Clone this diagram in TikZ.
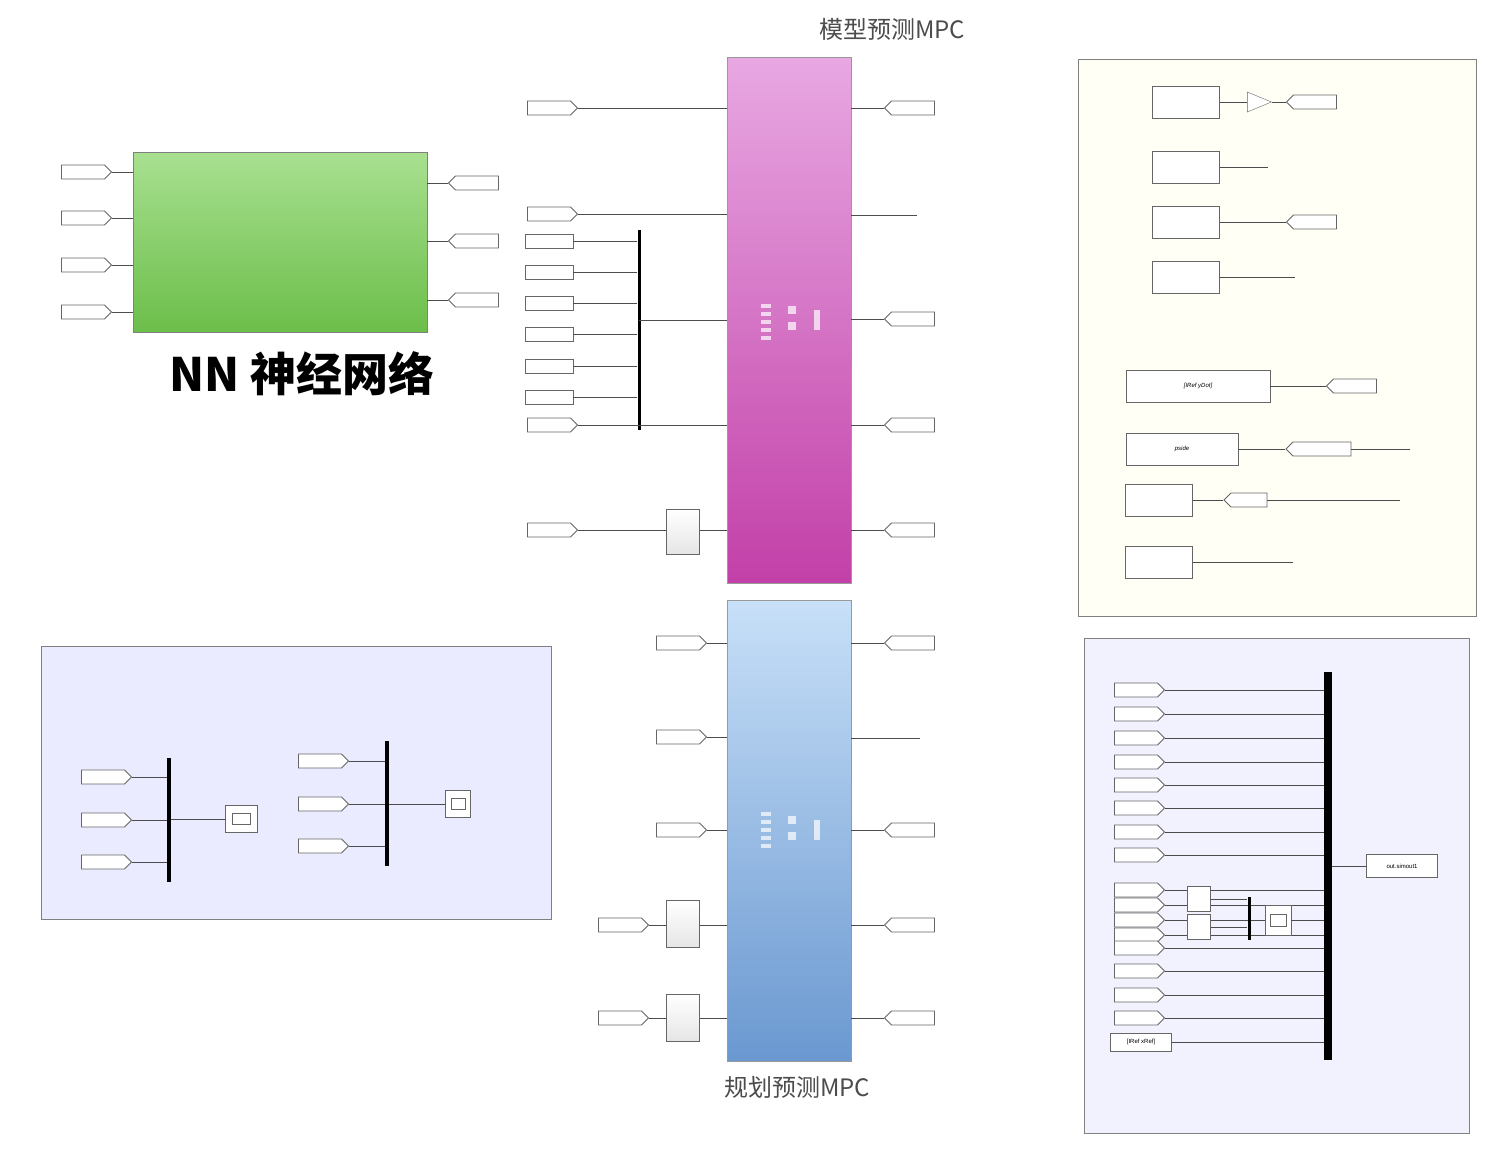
\documentclass[tikz,border=0pt]{standalone}
\usepackage{fontspec}
\setmainfont{Liberation Sans}
\newfontfamily\cjk{Noto Sans CJK SC}
\usetikzlibrary{shapes.symbols,shapes.geometric}
\definecolor{lg}{HTML}{6CBE4A}\definecolor{lgt}{HTML}{A8E090}
\definecolor{mgt}{HTML}{E8A8E2}\definecolor{mgb}{HTML}{C240A8}
\definecolor{blt}{HTML}{C8E0F8}\definecolor{blb}{HTML}{6A98D0}
\tikzset{
 w/.style={line width=0.8pt,draw=black!70},
 tagR/.style={signal,signal to=east,draw=black!60,fill=white,minimum width=50pt,minimum height=14pt,inner sep=0pt,line width=0.8pt},
 tagL/.style={signal,signal to=west,draw=black!60,fill=white,minimum width=50pt,minimum height=14pt,inner sep=0pt,line width=0.8pt},
 tagB/.style={draw=black!60,fill=white,minimum width=48pt,minimum height=14pt,inner sep=0pt,line width=0.8pt},
 sbox/.style={draw=black!60,fill=white,inner sep=0pt,line width=0.8pt,font=\fontsize{6}{7}\selectfont\itshape},
 bus/.style={fill=black,inner sep=0pt,minimum width=4pt},
 panel/.style={draw=black!50,line width=1pt},
 ttl/.style={font=\cjk\fontsize{24}{28}\selectfont,text=black!70},
}
\begin{document}
\begin{tikzpicture}[x=1pt,y=-1pt]
\useasboundingbox[fill=white] (0,0) rectangle (1497,1157);
% ---------- NN block
\node[draw=black!50,top color=lgt,bottom color=lg,minimum width=294pt,minimum height=180pt,inner sep=0pt] (nn) at (280,242) {};
\foreach \y [count=\i] in {172,218,265,312}{
 \node[tagR] (ni\i) at (83,\y) {};
 \draw[w] (ni\i.east) -- (ni\i.east -| nn.west);}
\foreach \y [count=\i] in {183,241,300}{
 \node[tagL] (no\i) at (477,\y) {};
 \draw[w] (no\i.west) -- (no\i.west -| nn.east);}
\node[font=\cjk\bfseries\fontsize{46}{50}\selectfont] (nnt) at (302,374) {NN 神经网络};
% ---------- magenta MPC
\node[draw=black!40,top color=mgt,bottom color=mgb,minimum width=124pt,minimum height=526pt,inner sep=0pt] (m1) at (789,320) {};
\node[ttl] (m1t) at (892,29) {模型预测MPC};
\node[tagR] (ma) at (549,108) {}; \draw[w] (ma.east) -- (ma.east -| m1.west);
\node[tagR] (mb) at (549,214) {}; \draw[w] (mb.east) -- (mb.east -| m1.west);
\node[bus,minimum height=200pt,minimum width=3pt] (mbus) at (639,330) {};
\foreach \y [count=\i] in {241,272,303,334,366,397}{
 \node[tagB] (mc\i) at (549,\y) {};
 \draw[w] (mc\i.east) -- (mc\i.east -| mbus.west);}
\node[tagR] (mc7) at (549,425) {}; \draw[w] (mc7.east) -- (mc7.east -| m1.west);
\coordinate (mbo) at (639,320); \draw[w] (mbo) -- (mbo -| m1.west);
\node[tagR] (md) at (549,530) {};
\node[sbox,top color=white,bottom color=black!10,minimum width=33pt,minimum height=45pt] (mdb) at (683,532) {};
\draw[w] (md.east) -- (md.east -| mdb.west); \draw[w] (mdb.east |- md.east) -- (md.east -| m1.west);
\foreach \y/\s [count=\i] in {108/tagL,319/tagL,425/tagL,530/tagL}{
 \node[\s] (mo\i) at (913,\y) {};
 \draw[w] (mo\i.west) -- (mo\i.west -| m1.east);}
\coordinate (mp) at (917,215); \draw[w] (mp -| m1.east) -- (mp);
\foreach \dy in {-16,-8,0,8,16}{\fill[white,opacity=0.7] (761,320+\dy) rectangle (771,324+\dy);}
\fill[white,opacity=0.7] (788,306) rectangle (796,314); \fill[white,opacity=0.7] (788,322) rectangle (796,330);
\fill[white,opacity=0.7] (814,310) rectangle (820,330);
% ---------- blue MPC
\node[draw=black!40,top color=blt,bottom color=blb,minimum width=124pt,minimum height=461pt,inner sep=0pt] (m2) at (789,831) {};
\node[ttl] (m2t) at (797,1087) {规划预测MPC};
\foreach \y [count=\i] in {643,737,830}{
 \node[tagR] (bi\i) at (678,\y) {};
 \draw[w] (bi\i.east) -- (bi\i.east -| m2.west);}
\foreach \y/\c [count=\i] in {925/924,1018/1018}{
 \node[tagR] (bj\i) at (620,\y) {};
 \node[sbox,top color=white,bottom color=black!10,minimum width=33pt,minimum height=47pt] (bb\i) at (683,\c) {};
 \draw[w] (bj\i.east) -- (bj\i.east -| bb\i.west);
 \draw[w] (bb\i.east |- bj\i.east) -- (bj\i.east -| m2.west);}
\foreach \y [count=\i] in {643,830,925,1018}{
 \node[tagL] (bo\i) at (913,\y) {};
 \draw[w] (bo\i.west) -- (bo\i.west -| m2.east);}
\coordinate (bp) at (920,738); \draw[w] (bp -| m2.east) -- (bp);
\foreach \dy in {-16,-8,0,8,16}{\fill[white,opacity=0.7] (761,828+\dy) rectangle (771,832+\dy);}
\fill[white,opacity=0.7] (788,816) rectangle (796,824); \fill[white,opacity=0.7] (788,832) rectangle (796,840);
\fill[white,opacity=0.7] (814,820) rectangle (820,840);
% ---------- right top panel
\node[panel,fill=green!4!yellow!4,minimum width=398pt,minimum height=557pt,inner sep=0pt] (p1) at (1277,338) {};
\node[sbox,minimum width=67pt,minimum height=32pt] (r1) at (1186,102) {};
\node[isosceles triangle,draw=black!60,fill=white,minimum height=22pt,minimum width=20pt,inner sep=0pt] (g1) at (1254,102) {};
\node[tagL] (r1t) at (1315,102) {};
\draw[w] (r1.east) -- (g1.west); \draw[w] (g1.east) -- (r1t.west);
\node[sbox,minimum width=67pt,minimum height=32pt] (r2) at (1186,167) {};
\coordinate (r2e) at (1268,167); \draw[w] (r2.east) -- (r2e);
\node[sbox,minimum width=67pt,minimum height=32pt] (r3) at (1186,222) {};
\node[tagL] (r3t) at (1315,222) {}; \draw[w] (r3.east) -- (r3t.west);
\node[sbox,minimum width=67pt,minimum height=32pt] (r4) at (1186,277) {};
\coordinate (r4e) at (1295,277); \draw[w] (r4.east) -- (r4e);
\node[sbox,minimum width=144pt,minimum height=32pt] (r5) at (1198,386) {[IRef yDot]};
\node[tagL] (r5t) at (1355,386) {}; \draw[w] (r5.east) -- (r5t.west);
\node[sbox,minimum width=112pt,minimum height=32pt] (r6) at (1182,449) {pside};
\node[tagL,minimum width=65pt] (r6t) at (1322,449) {}; \coordinate (r6e) at (1410,449);
\draw[w] (r6.east) -- (r6t.west); \draw[w] (r6t.east) -- (r6e);
\node[sbox,minimum width=67pt,minimum height=32pt] (r7) at (1159,500) {};
\node[tagL,minimum width=43pt] (r7t) at (1249,500) {}; \coordinate (r7e) at (1400,500);
\draw[w] (r7.east) -- (r7t.west); \draw[w] (r7t.east) -- (r7e);
\node[sbox,minimum width=67pt,minimum height=32pt] (r8) at (1159,562) {};
\coordinate (r8e) at (1293,562); \draw[w] (r8.east) -- (r8e);
% ---------- left bottom panel
\node[panel,fill=blue!8,minimum width=510pt,minimum height=273pt,inner sep=0pt] (p2) at (296,783) {};
\node[bus,minimum height=124pt] (lb1) at (169,820) {};
\foreach \y [count=\i] in {777,820,862}{
 \node[tagR] (la\i) at (103,\y) {}; \draw[w] (la\i.east) -- (la\i.east -| lb1.west);}
\node[sbox,minimum width=32pt,minimum height=27pt] (ls1) at (241,819) {};
\node[draw=black!60,minimum width=18pt,minimum height=11pt,inner sep=0pt] at (ls1) {};
\draw[w] (lb1.east |- ls1.west) -- (ls1.west);
\node[bus,minimum height=125pt] (lb2) at (387,803) {};
\foreach \y [count=\i] in {761,804,846}{
 \node[tagR] (lc\i) at (320,\y) {}; \draw[w] (lc\i.east) -- (lc\i.east -| lb2.west);}
\node[sbox,minimum width=25pt,minimum height=27pt] (ls2) at (458,804) {};
\node[draw=black!60,minimum width=14pt,minimum height=11pt,inner sep=0pt] at (ls2) {};
\draw[w] (lb2.east |- ls2.west) -- (ls2.west);
% ---------- right bottom panel
\node[panel,fill=blue!5,minimum width=385pt,minimum height=495pt,inner sep=0pt] (p3) at (1277,886) {};
\node[bus,minimum height=388pt,minimum width=8pt] (rb) at (1328,866) {};
\foreach \y [count=\i] in {690,714,738,762,785,808,832,855,890,905,920,935,948,971,995,1018}{
 \node[tagR] (rt\i) at (1136,\y) {}; \draw[w] (rt\i.east) -- (rt\i.east -| rb.west);}
\node[sbox,minimum width=61pt,minimum height=18pt,font=\fontsize{6}{7}\selectfont] (rx) at (1141,1042) {[IRef xRef]};
\draw[w] (rx.east) -- (rx.east -| rb.west);
\node[sbox,minimum width=71pt,minimum height=23pt,font=\fontsize{6}{7}\selectfont] (ro) at (1402,866) {out.simout1};
\draw[w] (ro.west -| rb.east) -- (ro.west);
\node[sbox,minimum width=23pt,minimum height=25pt] (rs1) at (1199,899) {};
\node[sbox,minimum width=23pt,minimum height=25pt] (rs2) at (1199,927) {};
\node[bus,minimum height=43pt,minimum width=3pt] (rsb) at (1249,918) {};
\node[sbox,minimum width=26pt,minimum height=30pt] (rsc) at (1278,920) {};
\node[draw=black!60,minimum width=16pt,minimum height=12pt,inner sep=0pt] at (rsc) {};
\draw[w] (rs1.east) -- (rs1.east -| rsb.west); \draw[w] (rs2.east) -- (rs2.east -| rsb.west);
\draw[w] (rsb.east |- rsc.west) -- (rsc.west);
\draw[w] (rsc.east) -- (rsc.east -| rb.west);
\end{tikzpicture}
\end{document}
